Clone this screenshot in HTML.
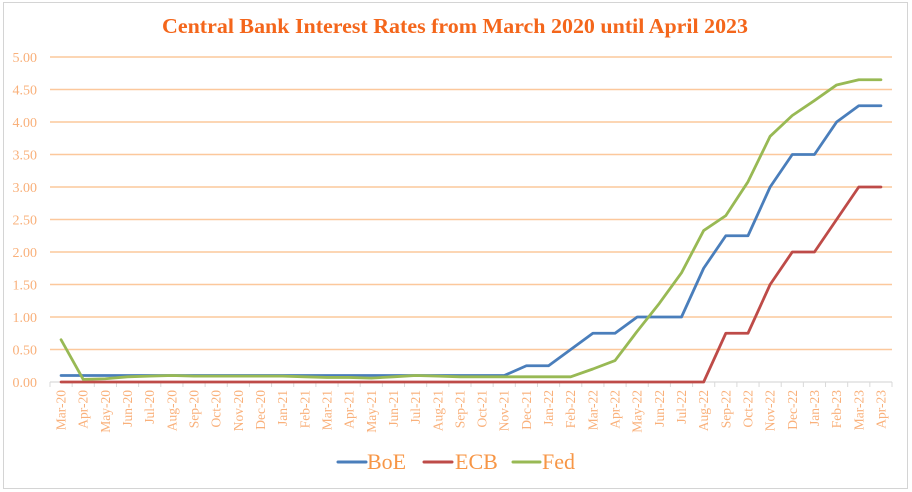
<!DOCTYPE html>
<html><head><meta charset="utf-8"><style>
html,body{margin:0;padding:0;background:#fff;}
svg{display:block;}
text{font-family:"Liberation Serif",serif;}
</style></head><body>
<svg width="912" height="492" viewBox="0 0 912 492" xmlns="http://www.w3.org/2000/svg">
<rect x="3.5" y="2.5" width="904" height="486" fill="#fff" stroke="#d4d4d4" stroke-width="1"/>
<text x="455" y="33" text-anchor="middle" font-size="21" font-weight="bold" fill="#f4661b" textLength="586" lengthAdjust="spacingAndGlyphs">Central Bank Interest Rates from March 2020 until April 2023</text>
<g stroke="#fcc89c" stroke-width="1.5">
<line x1="50" y1="57" x2="892" y2="57"/>
<line x1="50" y1="89.5" x2="892" y2="89.5"/>
<line x1="50" y1="122" x2="892" y2="122"/>
<line x1="50" y1="154.5" x2="892" y2="154.5"/>
<line x1="50" y1="187" x2="892" y2="187"/>
<line x1="50" y1="219.5" x2="892" y2="219.5"/>
<line x1="50" y1="252" x2="892" y2="252"/>
<line x1="50" y1="284.5" x2="892" y2="284.5"/>
<line x1="50" y1="317" x2="892" y2="317"/>
<line x1="50" y1="349.5" x2="892" y2="349.5"/>
</g>
<line x1="50" y1="382" x2="892" y2="382" stroke="#d9d9d9" stroke-width="1.2"/>
<g fill="#f9b07a" font-size="14" text-anchor="end">
<text x="37" y="62">5.00</text>
<text x="37" y="94.5">4.50</text>
<text x="37" y="127">4.00</text>
<text x="37" y="159.5">3.50</text>
<text x="37" y="192">3.00</text>
<text x="37" y="224.5">2.50</text>
<text x="37" y="257">2.00</text>
<text x="37" y="289.5">1.50</text>
<text x="37" y="322">1.00</text>
<text x="37" y="354.5">0.50</text>
<text x="37" y="387">0.00</text>
</g>
<g stroke="#d9d9d9" stroke-width="1">
<path d="M50,382v5M72.16,382v5M94.32,382v5M116.47,382v5M138.63,382v5M160.79,382v5M182.95,382v5M205.11,382v5M227.26,382v5M249.42,382v5M271.58,382v5M293.74,382v5M315.9,382v5M338.05,382v5M360.21,382v5M382.37,382v5M404.53,382v5M426.69,382v5M448.84,382v5M471,382v5M493.16,382v5M515.32,382v5M537.48,382v5M559.63,382v5M581.79,382v5M603.95,382v5M626.11,382v5M648.27,382v5M670.42,382v5M692.58,382v5M714.74,382v5M736.9,382v5M759.06,382v5M781.21,382v5M803.37,382v5M825.53,382v5M847.69,382v5M869.85,382v5M892,382v5"/>
</g>
<g fill="#f9b07a" font-size="13.5" text-anchor="end">
<text transform="translate(65.6,390) rotate(-90)">Mar-20</text>
<text transform="translate(87.7,390) rotate(-90)">Apr-20</text>
<text transform="translate(109.9,390) rotate(-90)">May-20</text>
<text transform="translate(132.1,390) rotate(-90)">Jun-20</text>
<text transform="translate(154.2,390) rotate(-90)">Jul-20</text>
<text transform="translate(176.4,390) rotate(-90)">Aug-20</text>
<text transform="translate(198.5,390) rotate(-90)">Sep-20</text>
<text transform="translate(220.7,390) rotate(-90)">Oct-20</text>
<text transform="translate(242.8,390) rotate(-90)">Nov-20</text>
<text transform="translate(265,390) rotate(-90)">Dec-20</text>
<text transform="translate(287.2,390) rotate(-90)">Jan-21</text>
<text transform="translate(309.3,390) rotate(-90)">Feb-21</text>
<text transform="translate(331.5,390) rotate(-90)">Mar-21</text>
<text transform="translate(353.6,390) rotate(-90)">Apr-21</text>
<text transform="translate(375.8,390) rotate(-90)">May-21</text>
<text transform="translate(398,390) rotate(-90)">Jun-21</text>
<text transform="translate(420.1,390) rotate(-90)">Jul-21</text>
<text transform="translate(442.3,390) rotate(-90)">Aug-21</text>
<text transform="translate(464.4,390) rotate(-90)">Sep-21</text>
<text transform="translate(486.6,390) rotate(-90)">Oct-21</text>
<text transform="translate(508.7,390) rotate(-90)">Nov-21</text>
<text transform="translate(530.9,390) rotate(-90)">Dec-21</text>
<text transform="translate(553.1,390) rotate(-90)">Jan-22</text>
<text transform="translate(575.2,390) rotate(-90)">Feb-22</text>
<text transform="translate(597.4,390) rotate(-90)">Mar-22</text>
<text transform="translate(619.5,390) rotate(-90)">Apr-22</text>
<text transform="translate(641.7,390) rotate(-90)">May-22</text>
<text transform="translate(663.9,390) rotate(-90)">Jun-22</text>
<text transform="translate(686,390) rotate(-90)">Jul-22</text>
<text transform="translate(708.2,390) rotate(-90)">Aug-22</text>
<text transform="translate(730.3,390) rotate(-90)">Sep-22</text>
<text transform="translate(752.5,390) rotate(-90)">Oct-22</text>
<text transform="translate(774.6,390) rotate(-90)">Nov-22</text>
<text transform="translate(796.8,390) rotate(-90)">Dec-22</text>
<text transform="translate(819,390) rotate(-90)">Jan-23</text>
<text transform="translate(841.1,390) rotate(-90)">Feb-23</text>
<text transform="translate(863.3,390) rotate(-90)">Mar-23</text>
<text transform="translate(885.4,390) rotate(-90)">Apr-23</text>
</g>
<g fill="none" stroke-width="2.8" stroke-linejoin="round" stroke-linecap="round">
<polyline stroke="#4a7ebb" points="61.08,375.5 504.24,375.5 526.40,365.75 548.56,365.75 570.71,349.5 592.87,333.25 615.03,333.25 637.19,317 681.50,317 703.66,268.25 725.82,235.75 747.98,235.75 770.14,187 792.29,154.5 814.45,154.5 836.61,122 858.77,105.75 880.93,105.75"/>
<polyline stroke="#be4b48" points="61.08,382 703.66,382 725.82,333.25 747.98,333.25 770.14,284.5 792.29,252 814.45,252 836.61,219.5 858.77,187 880.93,187"/>
<polyline stroke="#98b954" points="61.08,339.75 83.24,379.4 105.40,378.75 127.55,376.8 149.71,376.15 171.87,375.5 194.03,376.15 216.19,376.15 238.34,376.15 260.50,376.15 282.66,376.15 304.82,376.8 326.98,377.45 349.13,377.45 371.29,378.1 393.45,376.8 415.61,375.5 437.77,376.15 459.92,376.8 482.08,376.8 504.24,376.8 526.40,376.8 548.56,376.8 570.71,376.8 592.87,369 615.03,360.55 637.19,331.3 659.35,303.35 681.50,272.8 703.66,230.55 725.82,215.6 747.98,181.8 770.14,136.3 792.29,115.5 814.45,100.55 836.61,84.95 858.77,79.75 880.93,79.75"/>
</g>
<g stroke-width="3" stroke-linecap="round">
<line x1="338" y1="462" x2="366" y2="462" stroke="#4a7ebb"/>
<line x1="424" y1="462" x2="452" y2="462" stroke="#be4b48"/>
<line x1="513" y1="462" x2="540" y2="462" stroke="#98b954"/>
</g>
<g fill="#f79646" font-size="22">
<text x="367" y="469">BoE</text>
<text x="455" y="469">ECB</text>
<text x="542" y="469">Fed</text>
</g>
</svg>
</body></html>
